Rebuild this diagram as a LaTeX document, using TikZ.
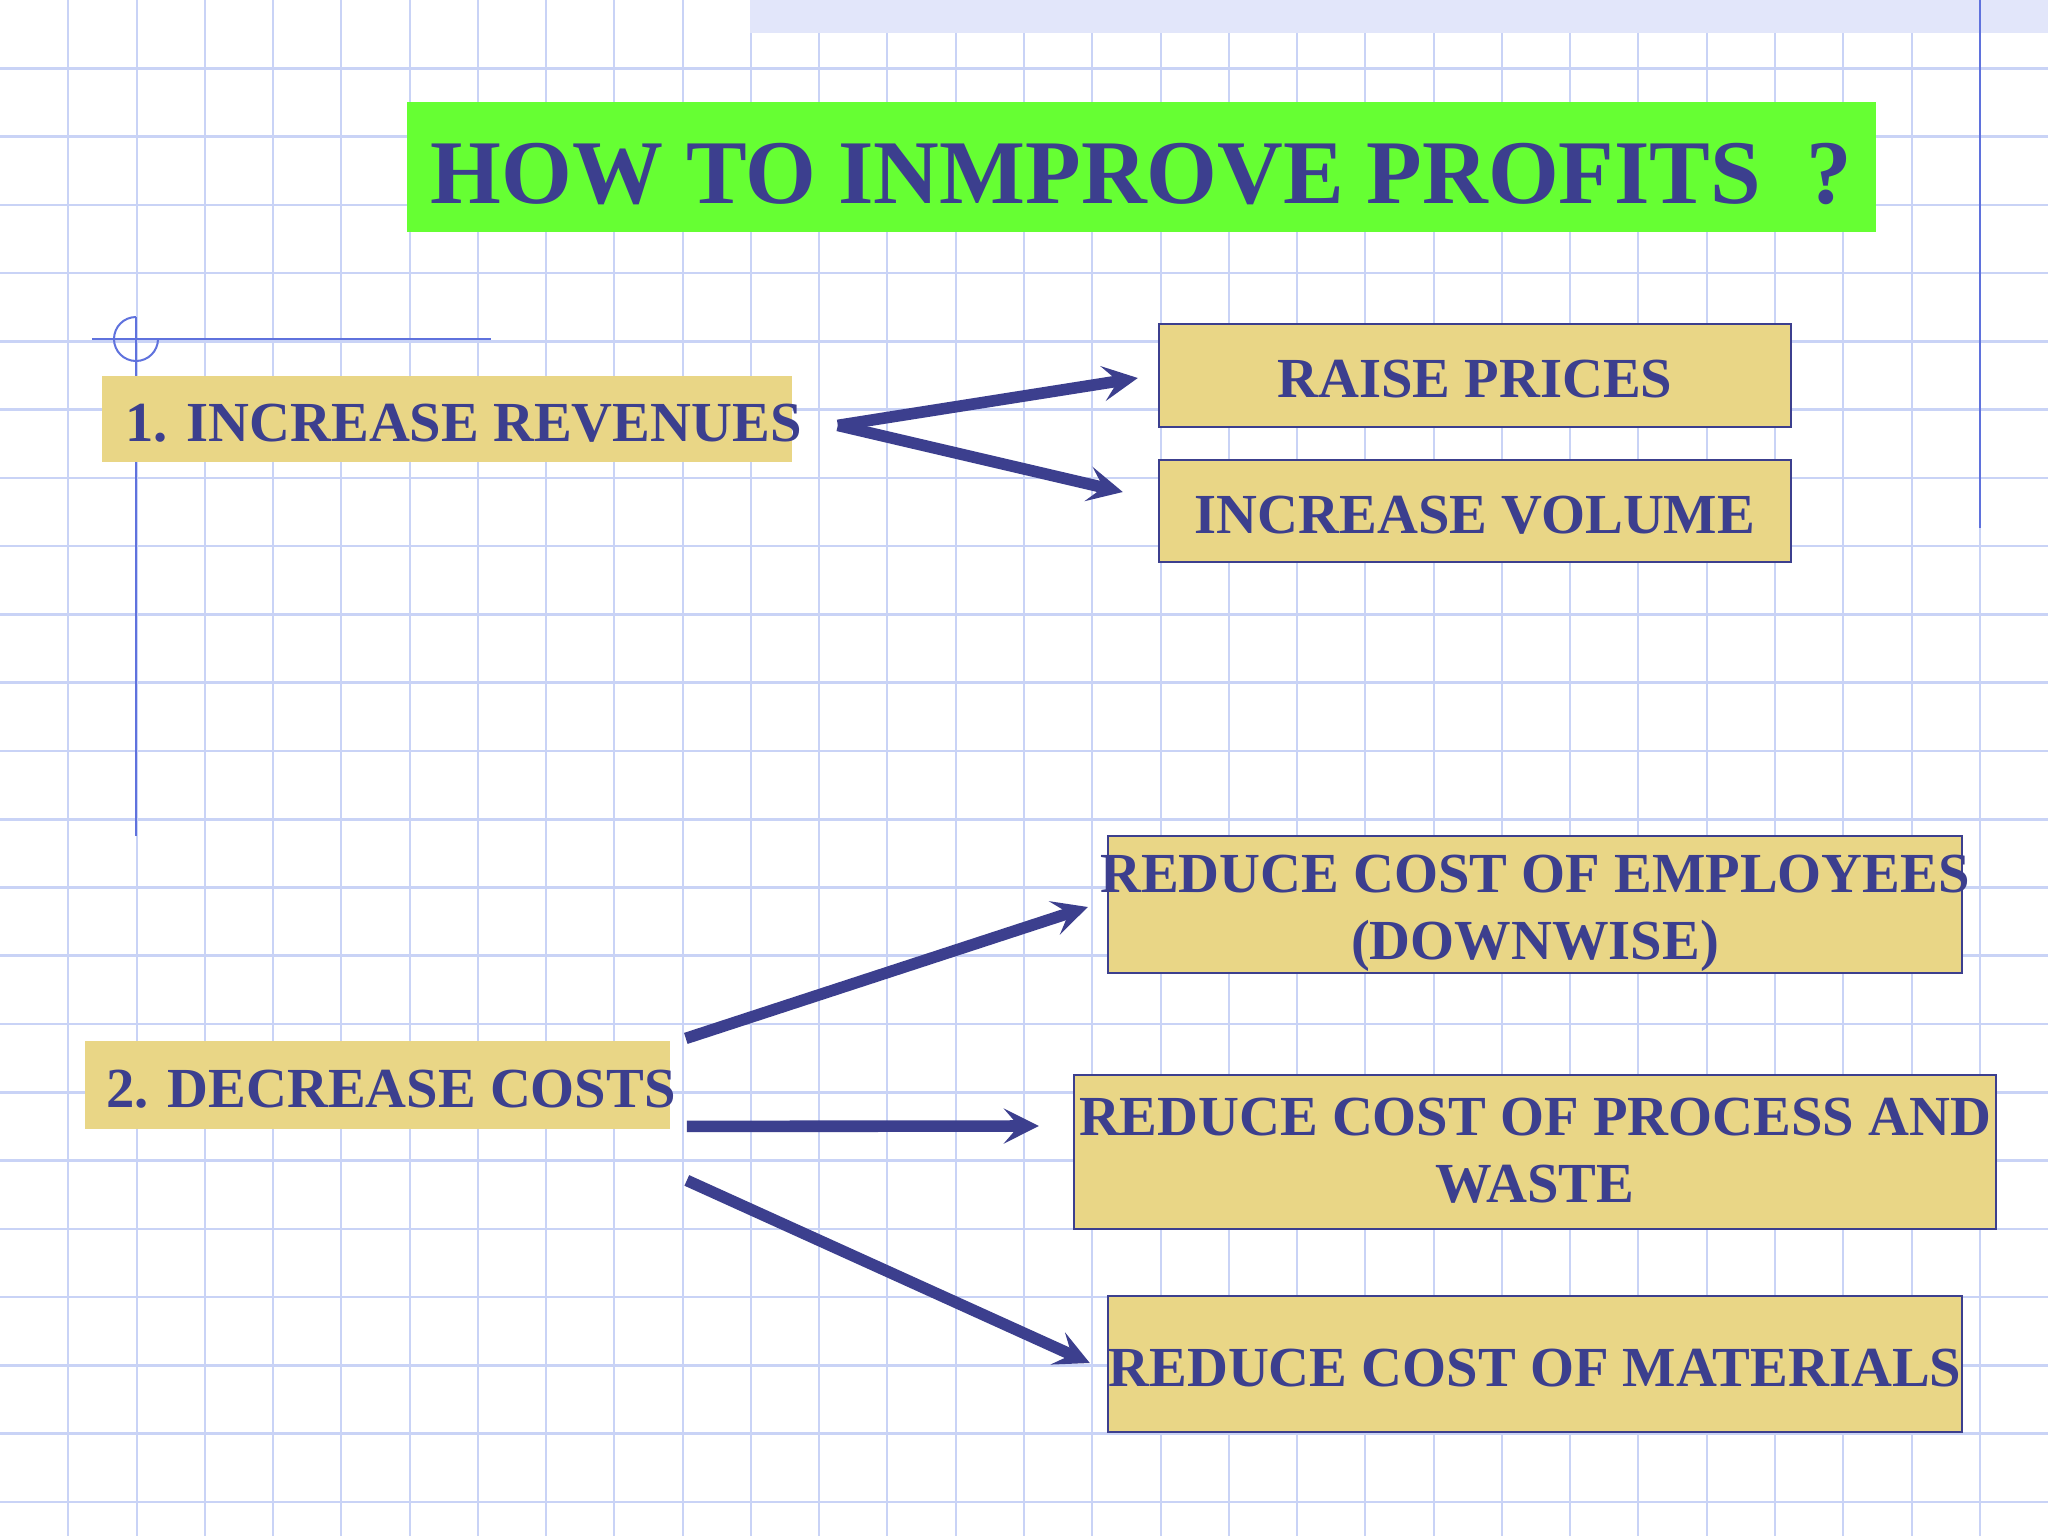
\documentclass[tikz,border=0pt]{standalone}
\usepackage{fontspec}
\setmainfont{Liberation Serif}
\usetikzlibrary{arrows.meta,calc}
\definecolor{ink}{HTML}{3C3F8E}
\definecolor{tanfill}{HTML}{E9D686}
\definecolor{lime}{HTML}{66FF33}
\definecolor{gridc}{HTML}{C9D3F6}
\definecolor{guide}{HTML}{5F72DD}
\definecolor{bandc}{HTML}{E2E6FA}
\newcommand{\shiftdown}[2]{\raisebox{-#1}[\height][\depth]{#2}}
\newcommand{\twolines}[3]{\begin{tabular}{@{}c@{}}\makebox[#1]{#2}\\\makebox[#1]{#3}\end{tabular}}
\begin{document}
\begin{tikzpicture}[x=0.5pt,y=-0.5pt,
  txt/.style={text=ink,font=\fontsize{28.3pt}{33.5pt}\selectfont\bfseries,inner sep=0pt},
  tanbox/.style={txt,fill=tanfill,rectangle},
  framebox/.style={txt,fill=tanfill,draw=ink,line width=1.2pt,rectangle},
  arr/.style={draw=ink,line width=5.8pt,-{Stealth[length=17.5pt,width=17.5pt,inset=7.5pt]}},
  gline/.style={draw=guide,line width=1pt}]
\useasboundingbox (0,0) rectangle (2048,1536);
\fill[white] (0,0) rectangle (2048,1536);
% grid
\foreach \i in {1,...,29} \draw[gridc,line width=1pt] (\i*68.267,0) -- (\i*68.267,1536);
\foreach \j in {1,...,22} \draw[gridc,line width=1.3pt] (0,\j*68.267) -- (2048,\j*68.267);
% top band
\fill[bandc] (750,0) rectangle (2048,33);
% guide lines
\draw[gline] (1980,0) -- (1980,528);
\draw[gline] (92,339) -- (491,339);
\draw[gline] (136,317) -- (136,836);
\draw[gline] (136,317) arc[start angle=90,end angle=360,radius=11pt];
% title
\node[fill=lime,minimum width=734.5pt,minimum height=65pt,inner sep=0pt,text=ink,
      font=\fontsize{45.5pt}{50pt}\selectfont\bfseries] (title) at (1141.5,167)
      {\shiftdown{3.5pt}{HOW TO INMPROVE PROFITS\ \ ?}};
% left boxes
\node[tanbox,minimum width=345pt,minimum height=43pt,anchor=north west] (rev) at (102,376)
      {\makebox[345pt][l]{\hspace{11.5pt}\shiftdown{2pt}{1. INCREASE REVENUES}}};
\node[tanbox,minimum width=292.5pt,minimum height=44pt,anchor=north west] (costs) at (85,1041)
      {\makebox[292.5pt][l]{\hspace{10.5pt}\shiftdown{2pt}{2. DECREASE COSTS}}};
% right boxes
\node[framebox,minimum width=316pt,minimum height=51.5pt] (raise) at (1475,375.5)
      {\shiftdown{2pt}{RAISE PRICES}};
\node[framebox,minimum width=316pt,minimum height=51pt] (vol) at (1475,511)
      {\shiftdown{2pt}{INCREASE VOLUME}};
\node[framebox,minimum width=427pt,minimum height=68.5pt] (emp) at (1535,904.5)
      {\shiftdown{4pt}{\twolines{427pt}{REDUCE COST OF EMPLOYEES}{(DOWNWISE)}}};
\node[framebox,minimum width=461pt,minimum height=77pt] (proc) at (1535,1152)
      {\shiftdown{2pt}{\twolines{461pt}{REDUCE COST OF PROCESS AND}{WASTE}}};
\node[framebox,minimum width=427pt,minimum height=68pt] (mat) at (1535,1364)
      {\makebox[427pt]{\shiftdown{2pt}{REDUCE COST OF MATERIALS}}};
% arrows
\coordinate (v1) at ($(rev.east)+(45,6)$);
\draw[arr] (v1) -- ($(raise.west)+(-20,2.5)$);
\draw[arr] (v1) -- ($(vol.west)+(-35,-19)$);
\draw[arr] ($(costs.east)+(15,-47)$) -- ($(emp.west)+(-19,2.5)$);
\draw[arr] ($(costs.east)+(16,41)$) -- ($(proc.west)+(-34,-26)$);
\draw[arr] ($(costs.east)+(16,95)$) -- ($(mat.west)+(-17,-1)$);
\end{tikzpicture}
\end{document}
